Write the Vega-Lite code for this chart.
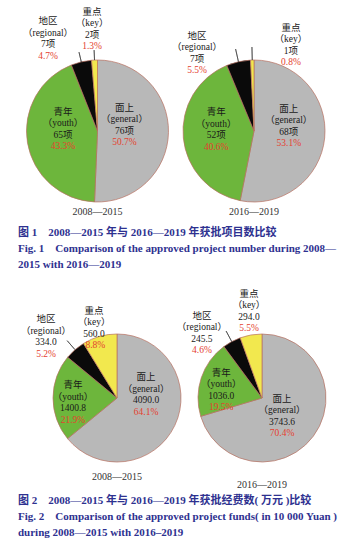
{
  "$schema": "https://vega.github.io/schema/vega-lite/v6.json",
  "background": "white",
  "padding": {"left": 17, "top": 6, "right": 0, "bottom": 0},
  "data": {"values": [
    {"fig": "n", "period": "2008—2015", "cat": "面上", "lbl": "面上\n（general）\n76项", "pct": "50.7%", "val": 76, "ord": 1},
    {"fig": "n", "period": "2008—2015", "cat": "青年", "lbl": "青年\n（youth）\n65项", "pct": "43.3%", "val": 65, "ord": 2},
    {"fig": "n", "period": "2008—2015", "cat": "地区", "lbl": "地区\n（regional）\n7项", "pct": "4.7%", "val": 7, "ord": 3},
    {"fig": "n", "period": "2008—2015", "cat": "重点", "lbl": "重点\n（key）\n2项", "pct": "1.3%", "val": 2, "ord": 4},
    {"fig": "n", "period": "2016—2019", "cat": "面上", "lbl": "面上\n（general）\n68项", "pct": "53.1%", "val": 68, "ord": 1},
    {"fig": "n", "period": "2016—2019", "cat": "青年", "lbl": "青年\n（youth）\n52项", "pct": "40.6%", "val": 52, "ord": 2},
    {"fig": "n", "period": "2016—2019", "cat": "地区", "lbl": "地区\n（regional）\n7项", "pct": "5.5%", "val": 7, "ord": 3},
    {"fig": "n", "period": "2016—2019", "cat": "重点", "lbl": "重点\n（key）\n1项", "pct": "0.8%", "val": 1, "ord": 4},
    {"fig": "f", "period": "2008—2015", "cat": "面上", "lbl": "面上\n（general）\n4090.0", "pct": "64.1%", "val": 4090.0, "ord": 1},
    {"fig": "f", "period": "2008—2015", "cat": "青年", "lbl": "青年\n（youth）\n1400.8", "pct": "21.9%", "val": 1400.8, "ord": 2},
    {"fig": "f", "period": "2008—2015", "cat": "地区", "lbl": "地区\n（regional）\n334.0", "pct": "5.2%", "val": 334.0, "ord": 3},
    {"fig": "f", "period": "2008—2015", "cat": "重点", "lbl": "重点\n（key）\n560.0", "pct": "8.8%", "val": 560.0, "ord": 4},
    {"fig": "f", "period": "2016—2019", "cat": "面上", "lbl": "面上\n（general）\n3743.6", "pct": "70.4%", "val": 3743.6, "ord": 1},
    {"fig": "f", "period": "2016—2019", "cat": "青年", "lbl": "青年\n（youth）\n1036.0", "pct": "19.5%", "val": 1036.0, "ord": 2},
    {"fig": "f", "period": "2016—2019", "cat": "地区", "lbl": "地区\n（regional）\n245.5", "pct": "4.6%", "val": 245.5, "ord": 3},
    {"fig": "f", "period": "2016—2019", "cat": "重点", "lbl": "重点\n（key）\n294.0", "pct": "5.5%", "val": 294.0, "ord": 4}
  ]},
  "spacing": 274,
  "bounds": "flush",
  "vconcat": [
    {
      "spacing": 0,
      "bounds": "flush",
      "title": {"text": ["图 1\u20032008—2015 年与 2016—2019 年获批项目数比较", "Fig. 1\u2003Comparison of the approved project number during 2008—", "2015 with 2016—2019"], "orient": "bottom", "anchor": "start", "frame": "group", "offset": 10, "baseline": "top", "fontSize": 11, "fontWeight": "bold", "lineHeight": 16, "color": "#2e3190", "font": "Liberation Serif, Noto Sans CJK SC"},
      "hconcat": [
        {
          "width": 159, "height": 142,
          "title": {"text": "2008—2015", "orient": "bottom", "offset": 4},
          "transform": [{"filter": "datum.fig === 'n' && datum.period === '2008—2015'"}],
          "encoding": {"theta": {"field": "val", "type": "quantitative", "stack": true}, "order": {"field": "ord", "type": "quantitative"}, "detail": {"field": "cat", "type": "nominal"}},
          "layer": [
            {"mark": {"type": "arc", "outerRadius": 71}, "encoding": {"color": {"field": "cat", "type": "nominal", "scale": {"domain": ["面上", "青年", "地区", "重点"], "range": ["#b8b8b8", "#6db63c", "#0a0a0a", "#f2e84e"]}, "legend": null}}},
            {"mark": {"type": "arc", "innerRadius": 71, "outerRadius": 81, "padAngle": 3.14, "fill": null, "stroke": "#333333", "strokeWidth": 0.6}, "encoding": {"opacity": {"condition": {"test": "datum.cat === '地区' || datum.cat === '重点'", "value": 1}, "value": 0}}},
            {"mark": {"type": "text", "radius": 27, "dy": -24}, "encoding": {"text": {"condition": {"test": "datum.cat === '面上'", "field": "lbl"}, "value": ""}}},
            {"mark": {"type": "text", "radius": 27, "dy": 10.5, "color": "#e4412f"}, "encoding": {"text": {"condition": {"test": "datum.cat === '面上'", "field": "pct"}, "value": ""}}},
            {"mark": {"type": "text", "radius": 35, "dy": -25.3}, "encoding": {"text": {"condition": {"test": "datum.cat === '青年'", "field": "lbl"}, "value": ""}}},
            {"mark": {"type": "text", "radius": 35, "dy": 9.2, "color": "#e4412f"}, "encoding": {"text": {"condition": {"test": "datum.cat === '青年'", "field": "pct"}, "value": ""}}},
            {"mark": {"type": "text", "radius": 30, "dx": -42.6, "dy": -80.3}, "encoding": {"text": {"condition": {"test": "datum.cat === '地区'", "field": "lbl"}, "value": ""}}},
            {"mark": {"type": "text", "radius": 30, "dx": -42.6, "dy": -45.8, "color": "#e4412f"}, "encoding": {"text": {"condition": {"test": "datum.cat === '地区'", "field": "pct"}, "value": ""}}},
            {"mark": {"type": "text", "radius": 30, "dx": -4.2, "dy": -89.5}, "encoding": {"text": {"condition": {"test": "datum.cat === '重点'", "field": "lbl"}, "value": ""}}},
            {"mark": {"type": "text", "radius": 30, "dx": -4.2, "dy": -55, "color": "#e4412f"}, "encoding": {"text": {"condition": {"test": "datum.cat === '重点'", "field": "pct"}, "value": ""}}}
          ]
        },
        {
          "width": 154, "height": 142,
          "title": {"text": "2016—2019", "orient": "bottom", "offset": 4},
          "transform": [{"filter": "datum.fig === 'n' && datum.period === '2016—2019'"}],
          "encoding": {"theta": {"field": "val", "type": "quantitative", "stack": true}, "order": {"field": "ord", "type": "quantitative"}, "detail": {"field": "cat", "type": "nominal"}},
          "layer": [
            {"mark": {"type": "arc", "outerRadius": 71}, "encoding": {"color": {"field": "cat", "type": "nominal", "scale": {"domain": ["面上", "青年", "地区", "重点"], "range": ["#b8b8b8", "#6db63c", "#0a0a0a", "#f2e84e"]}, "legend": null}}},
            {"mark": {"type": "arc", "innerRadius": 71, "outerRadius": 84, "padAngle": 3.14, "fill": null, "stroke": "#333333", "strokeWidth": 0.6}, "encoding": {"opacity": {"condition": {"test": "datum.cat === '地区' || datum.cat === '重点'", "value": 1}, "value": 0}}},
            {"mark": {"type": "text", "radius": 35, "dy": -25.9}, "encoding": {"text": {"condition": {"test": "datum.cat === '面上'", "field": "lbl"}, "value": ""}}},
            {"mark": {"type": "text", "radius": 35, "dy": 8.6, "color": "#e4412f"}, "encoding": {"text": {"condition": {"test": "datum.cat === '面上'", "field": "pct"}, "value": ""}}},
            {"mark": {"type": "text", "radius": 38, "dy": -22.3}, "encoding": {"text": {"condition": {"test": "datum.cat === '青年'", "field": "lbl"}, "value": ""}}},
            {"mark": {"type": "text", "radius": 38, "dy": 12.2, "color": "#e4412f"}, "encoding": {"text": {"condition": {"test": "datum.cat === '青年'", "field": "pct"}, "value": ""}}},
            {"mark": {"type": "text", "radius": 30, "dx": -50.4, "dy": -66.2}, "encoding": {"text": {"condition": {"test": "datum.cat === '地区'", "field": "lbl"}, "value": ""}}},
            {"mark": {"type": "text", "radius": 30, "dx": -50.4, "dy": -31.7, "color": "#e4412f"}, "encoding": {"text": {"condition": {"test": "datum.cat === '地区'", "field": "pct"}, "value": ""}}},
            {"mark": {"type": "text", "radius": 30, "dx": 37.7, "dy": -73.5}, "encoding": {"text": {"condition": {"test": "datum.cat === '重点'", "field": "lbl"}, "value": ""}}},
            {"mark": {"type": "text", "radius": 30, "dx": 37.7, "dy": -39, "color": "#e4412f"}, "encoding": {"text": {"condition": {"test": "datum.cat === '重点'", "field": "pct"}, "value": ""}}}
          ]
        }
      ]
    },
    {
      "spacing": 0,
      "bounds": "flush",
      "title": {"text": ["图 2\u20032008—2015 年与 2016—2019 年获批经费数( 万元 )比较", "Fig. 2\u2003Comparison of the approved project funds( in 10 000 Yuan )", "during 2008—2015 with 2016–2019"], "orient": "bottom", "anchor": "start", "frame": "group", "offset": 5, "baseline": "top", "fontSize": 11, "fontWeight": "bold", "lineHeight": 16, "color": "#2e3190", "font": "Liberation Serif, Noto Sans CJK SC"},
      "hconcat": [
        {
          "width": 198, "height": 128,
          "title": {"text": "2008—2015", "orient": "bottom", "offset": 9},
          "transform": [{"filter": "datum.fig === 'f' && datum.period === '2008—2015'"}],
          "encoding": {"theta": {"field": "val", "type": "quantitative", "stack": true}, "order": {"field": "ord", "type": "quantitative"}, "detail": {"field": "cat", "type": "nominal"}},
          "layer": [
            {"mark": {"type": "arc", "outerRadius": 64}, "encoding": {"color": {"field": "cat", "type": "nominal", "scale": {"domain": ["面上", "青年", "地区", "重点"], "range": ["#b8b8b8", "#6db63c", "#0a0a0a", "#f2e84e"]}, "legend": null}}},
            {"mark": {"type": "arc", "innerRadius": 64, "outerRadius": 76, "padAngle": 3.14, "fill": null, "stroke": "#333333", "strokeWidth": 0.6}, "encoding": {"opacity": {"condition": {"test": "datum.cat === '地区'", "value": 1}, "value": 0}}},
            {"mark": {"type": "text", "radius": 30, "dx": 2, "dy": -33.5}, "encoding": {"text": {"condition": {"test": "datum.cat === '面上'", "field": "lbl"}, "value": ""}}},
            {"mark": {"type": "text", "radius": 30, "dx": 2, "dy": 1, "color": "#e4412f"}, "encoding": {"text": {"condition": {"test": "datum.cat === '面上'", "field": "pct"}, "value": ""}}},
            {"mark": {"type": "text", "radius": 44, "dy": -12.5}, "encoding": {"text": {"condition": {"test": "datum.cat === '青年'", "field": "lbl"}, "value": ""}}},
            {"mark": {"type": "text", "radius": 44, "dy": 22, "color": "#e4412f"}, "encoding": {"text": {"condition": {"test": "datum.cat === '青年'", "field": "pct"}, "value": ""}}},
            {"mark": {"type": "text", "radius": 30, "dx": -51.3, "dy": -55.9}, "encoding": {"text": {"condition": {"test": "datum.cat === '地区'", "field": "lbl"}, "value": ""}}},
            {"mark": {"type": "text", "radius": 30, "dx": -51.3, "dy": -21.4, "color": "#e4412f"}, "encoding": {"text": {"condition": {"test": "datum.cat === '地区'", "field": "pct"}, "value": ""}}},
            {"mark": {"type": "text", "radius": 30, "dx": -14.8, "dy": -58.6}, "encoding": {"text": {"condition": {"test": "datum.cat === '重点'", "field": "lbl"}, "value": ""}}},
            {"mark": {"type": "text", "radius": 30, "dx": -13.5, "dy": -24.1, "color": "#e4412f"}, "encoding": {"text": {"condition": {"test": "datum.cat === '重点'", "field": "pct"}, "value": ""}}}
          ]
        },
        {
          "width": 92, "height": 128,
          "title": {"text": "2016—2019", "orient": "bottom", "offset": 9},
          "transform": [{"filter": "datum.fig === 'f' && datum.period === '2016—2019'"}],
          "encoding": {"theta": {"field": "val", "type": "quantitative", "stack": true}, "order": {"field": "ord", "type": "quantitative"}, "detail": {"field": "cat", "type": "nominal"}},
          "layer": [
            {"mark": {"type": "arc", "outerRadius": 64}, "encoding": {"color": {"field": "cat", "type": "nominal", "scale": {"domain": ["面上", "青年", "地区", "重点"], "range": ["#b8b8b8", "#6db63c", "#0a0a0a", "#f2e84e"]}, "legend": null}}},
            {"mark": {"type": "arc", "innerRadius": 64, "outerRadius": 76, "padAngle": 3.14, "fill": null, "stroke": "#333333", "strokeWidth": 0.6}, "encoding": {"opacity": {"condition": {"test": "datum.cat === '地区'", "value": 1}, "value": 0}}},
            {"mark": {"type": "text", "radius": 23, "dx": 1.6, "dy": -13.2}, "encoding": {"text": {"condition": {"test": "datum.cat === '面上'", "field": "lbl"}, "value": ""}}},
            {"mark": {"type": "text", "radius": 23, "dx": 1.6, "dy": 21.3, "color": "#e4412f"}, "encoding": {"text": {"condition": {"test": "datum.cat === '面上'", "field": "pct"}, "value": ""}}},
            {"mark": {"type": "text", "radius": 43, "dy": -11.5}, "encoding": {"text": {"condition": {"test": "datum.cat === '青年'", "field": "lbl"}, "value": ""}}},
            {"mark": {"type": "text", "radius": 43, "dy": 23, "color": "#e4412f"}, "encoding": {"text": {"condition": {"test": "datum.cat === '青年'", "field": "pct"}, "value": ""}}},
            {"mark": {"type": "text", "radius": 30, "dx": -45.9, "dy": -56}, "encoding": {"text": {"condition": {"test": "datum.cat === '地区'", "field": "lbl"}, "value": ""}}},
            {"mark": {"type": "text", "radius": 30, "dx": -45.9, "dy": -21.5, "color": "#e4412f"}, "encoding": {"text": {"condition": {"test": "datum.cat === '地区'", "field": "pct"}, "value": ""}}},
            {"mark": {"type": "text", "radius": 30, "dx": -7.8, "dy": -74.9}, "encoding": {"text": {"condition": {"test": "datum.cat === '重点'", "field": "lbl"}, "value": ""}}},
            {"mark": {"type": "text", "radius": 30, "dx": -7.8, "dy": -40.4, "color": "#e4412f"}, "encoding": {"text": {"condition": {"test": "datum.cat === '重点'", "field": "pct"}, "value": ""}}}
          ]
        }
      ]
    }
  ],
  "config": {
    "view": {"stroke": null},
    "concat": {"spacing": 0},
    "arc": {"stroke": "#b87060", "strokeWidth": 0.7},
    "text": {"font": "Liberation Serif, Noto Sans CJK SC", "fontSize": 9.5, "lineHeight": 11.5, "lineBreak": "\n", "color": "#1a1a1a", "align": "center", "baseline": "middle"},
    "title": {"font": "Liberation Serif, Noto Sans CJK SC", "fontSize": 10, "fontWeight": "normal", "color": "#333333", "baseline": "top"}
  }
}
